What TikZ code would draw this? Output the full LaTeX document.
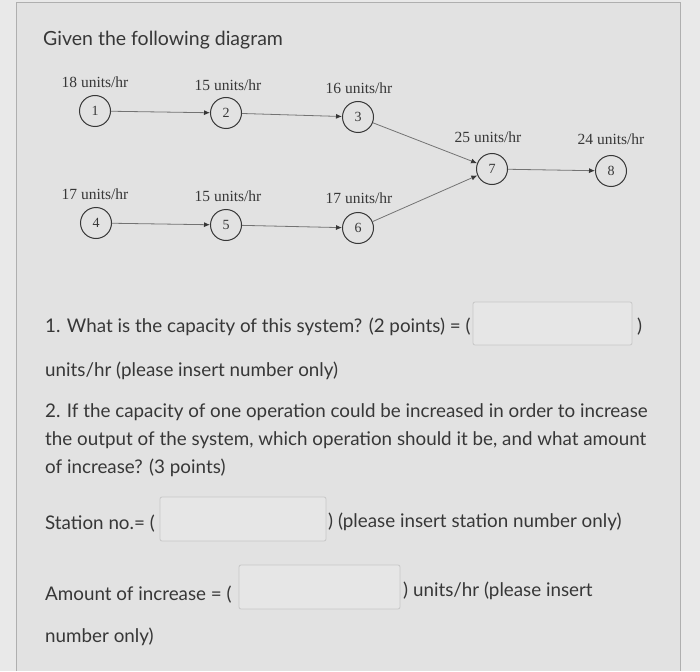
\documentclass[tikz,border=0pt]{standalone}
\usepackage{fontspec}
\setmainfont{Lato}
\newfontfamily\timesfont{Liberation Serif}
\usetikzlibrary{arrows.meta}
\definecolor{panelbg}{RGB}{226,226,226}
\definecolor{outerbg}{RGB}{233,233,233}
\definecolor{edgegray}{RGB}{175,175,175}
\definecolor{txt}{RGB}{55,55,55}
\definecolor{linegray}{RGB}{115,115,115}
\definecolor{circgray}{RGB}{55,55,55}
\definecolor{boxline}{RGB}{200,200,200}
\definecolor{boxfill}{RGB}{230,230,230}
\tikzset{
  station/.style={circle, draw=circgray, line width=1pt, minimum size=31pt, inner sep=0pt, font=\timesfont\fontsize{14}{14}\selectfont, text=txt},
  rate/.style={font=\timesfont\fontsize{15.5}{15.5}\selectfont, text=txt, inner sep=0pt},
  flow/.style={draw=linegray, line width=0.8pt, -{Latex[length=6pt,width=5pt,color=circgray]}},
  qtext/.style={anchor=base west, inner sep=0pt, text=txt, font=\fontsize{18.8}{18.8}\selectfont},
  ansbox/.style={draw=boxline, fill=boxfill, rounded corners=2pt, line width=0.8pt}
}
\begin{document}
\begin{tikzpicture}[x=1pt,y=-1pt]
\useasboundingbox (0,0) rectangle (700,671);
\fill[outerbg] (0,0) rectangle (700,671);
\fill[panelbg] (16,3) rectangle (680,671);
\draw[edgegray, line width=1pt] (16,671) -- (16,3) -- (680,3) -- (680,671);

\node[anchor=base west, inner sep=0pt, text=txt, font=\fontsize{19.5}{19.5}\selectfont] (title) at (43,46) {Given the following diagram};

% rates
\node[rate] (r1) at (95,82) {18 units/hr};
\node[rate] (r2) at (228,85) {15 units/hr};
\node[rate] (r3) at (359,88) {16 units/hr};
\node[rate] (r7) at (488,137) {25 units/hr};
\node[rate] (r8) at (611,139) {24 units/hr};
\node[rate] (r4) at (95,194) {17 units/hr};
\node[rate] (r5) at (228,196) {15 units/hr};
\node[rate] (r6) at (359,198) {17 units/hr};

% stations
\node[station] (s1) at (95,111) {1};
\node[station] (s2) at (226,113) {2};
\node[station] (s3) at (358,117) {3};
\node[station] (s7) at (492,169) {7};
\node[station] (s8) at (611,171) {8};
\node[station] (s4) at (96,223) {4};
\node[station] (s5) at (226,225) {5};
\node[station] (s6) at (358,228) {6};

\draw[flow] (s1) -- (s2);
\draw[flow] (s2) -- (s3);
\draw[flow] (s3) -- (s7);
\draw[flow] (s4) -- (s5);
\draw[flow] (s5) -- (s6);
\draw[flow] (s6) -- (s7);
\draw[flow] (s7) -- (s8);

% questions
\node[qtext] (q1) at (45,332) {1. What is the capacity of this system? (2 points) = (};
\draw[ansbox] (473,302) rectangle (632,345);
\node[qtext] (q1b) at (637,332) {)};
\node[qtext] (q1c) at (45,376) {units/hr (please insert number only)};
\node[qtext] (q2a) at (45,417) {2. If the capacity of one operation could be increased in order to increase};
\node[qtext] (q2b) at (45,445) {the output of the system, which operation should it be, and what amount};
\node[qtext] (q2c) at (45,473) {of increase? (3 points)};

\node[qtext] (st) at (45,529) {Station no.= (};
\draw[ansbox] (160,497) rectangle (326,541);
\node[qtext] (st2) at (328,527) {) (please insert station number only)};

\node[qtext] (am) at (45,600) {Amount of increase = (};
\draw[ansbox] (239,565) rectangle (400,609);
\node[qtext] (am2) at (403,596) {) units/hr (please insert};
\node[qtext] (am3) at (45,642) {number only)};
\end{tikzpicture}
\end{document}
